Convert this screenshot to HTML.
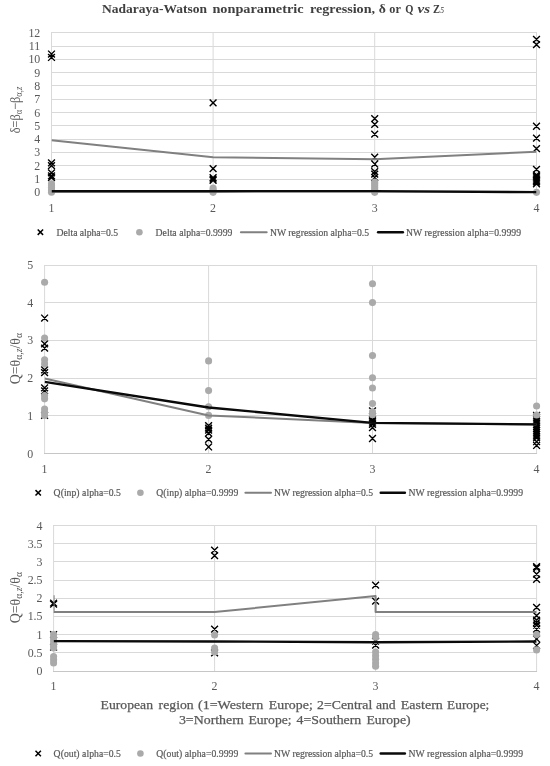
<!DOCTYPE html>
<html><head><meta charset="utf-8"><title>Nadaraya-Watson nonparametric regression</title>
<style>html,body{margin:0;padding:0;background:#fff}svg{display:block}text{font-family:"Liberation Serif","DejaVu Serif",serif}.t{font-size:11.9px;fill:#595959}.l{font-size:9.7px;fill:#595959;stroke:#595959;stroke-width:0.2px}.ti{font-size:13.2px;font-weight:bold;fill:#404040}.ax{font-size:13.3px;fill:#595959;stroke:#595959;stroke-width:0.25px}.yl{font-size:15px;fill:#595959}</style></head><body>
<svg width="550" height="766" viewBox="0 0 550 766">
<rect width="550" height="766" fill="#fff"/>
<text y="13.1" class="ti"><tspan x="102" textLength="105.0" lengthAdjust="spacingAndGlyphs">Nadaraya-Watson</tspan> <tspan x="212.4" textLength="91.2" lengthAdjust="spacingAndGlyphs">nonparametric</tspan> <tspan x="310" textLength="65.1" lengthAdjust="spacingAndGlyphs">regression,</tspan> <tspan x="378.7" textLength="7.1" lengthAdjust="spacingAndGlyphs">δ</tspan> <tspan x="389.3" textLength="11.3" lengthAdjust="spacingAndGlyphs">or</tspan> <tspan x="405.3" textLength="8.2" lengthAdjust="spacingAndGlyphs">Q</tspan> <tspan x="417.5" textLength="12.5" lengthAdjust="spacingAndGlyphs" font-style="italic">vs</tspan> <tspan x="433" textLength="7" lengthAdjust="spacingAndGlyphs">Z</tspan><tspan x="440.2" font-size="7.2px" font-style="italic" font-weight="normal" textLength="3.8" lengthAdjust="spacingAndGlyphs">5</tspan></text>
<path d="M51.00 192.50H537.00M51.00 179.50H537.00M51.00 165.50H537.00M51.00 152.50H537.00M51.00 139.50H537.00M51.00 125.50H537.00M51.00 112.50H537.00M51.00 99.50H537.00M51.00 85.50H537.00M51.00 72.50H537.00M51.00 59.50H537.00M51.00 46.50H537.00M51.00 32.50H537.00M51.50 32.00V193.00M213.10 32.00V193.00M374.70 32.00V193.00M536.50 32.00V193.00" stroke="#d9d9d9" stroke-width="1" fill="none"/>
<path d="M51.00 192.50H537.00" stroke="#c6c6c6" stroke-width="1" fill="none"/>
<text x="40.3" y="196.30" text-anchor="end" class="t">0</text>
<text x="40.3" y="183.00" text-anchor="end" class="t">1</text>
<text x="40.3" y="169.70" text-anchor="end" class="t">2</text>
<text x="40.3" y="156.40" text-anchor="end" class="t">3</text>
<text x="40.3" y="143.10" text-anchor="end" class="t">4</text>
<text x="40.3" y="129.80" text-anchor="end" class="t">5</text>
<text x="40.3" y="116.50" text-anchor="end" class="t">6</text>
<text x="40.3" y="103.20" text-anchor="end" class="t">7</text>
<text x="40.3" y="89.90" text-anchor="end" class="t">8</text>
<text x="40.3" y="76.60" text-anchor="end" class="t">9</text>
<text x="40.3" y="63.30" text-anchor="end" class="t">10</text>
<text x="40.3" y="50.00" text-anchor="end" class="t">11</text>
<text x="40.3" y="36.70" text-anchor="end" class="t">12</text>
<text x="51.50" y="211.60" text-anchor="middle" class="t">1</text>
<text x="213.10" y="211.60" text-anchor="middle" class="t">2</text>
<text x="374.70" y="211.60" text-anchor="middle" class="t">3</text>
<text x="536.50" y="211.60" text-anchor="middle" class="t">4</text>
<path d="M48.10 50.63L54.90 57.43M48.10 57.43L54.90 50.63M48.10 54.08L54.90 60.88M48.10 60.88L54.90 54.08M48.10 159.40L54.90 166.20M48.10 166.20L54.90 159.40M48.10 162.20L54.90 169.00M48.10 169.00L54.90 162.20M48.10 169.50L54.90 176.30M48.10 176.30L54.90 169.50M48.10 172.40L54.90 179.20M48.10 179.20L54.90 172.40M48.10 174.20L54.90 181.00M48.10 181.00L54.90 174.20M209.70 99.39L216.50 106.19M209.70 106.19L216.50 99.39M209.70 165.24L216.50 172.04M209.70 172.04L216.50 165.24M209.70 174.12L216.50 180.92M209.70 180.92L216.50 174.12M209.70 175.71L216.50 182.51M209.70 182.51L216.50 175.71M209.70 177.04L216.50 183.84M209.70 183.84L216.50 177.04M371.30 115.16L378.10 121.96M371.30 121.96L378.10 115.16M371.30 120.99L378.10 127.79M371.30 127.79L378.10 120.99M371.30 130.79L378.10 137.59M371.30 137.59L378.10 130.79M371.30 153.85L378.10 160.65M371.30 160.65L378.10 153.85M371.30 160.61L378.10 167.41M371.30 167.41L378.10 160.61M371.30 168.16L378.10 174.96M371.30 174.96L378.10 168.16M371.30 170.68L378.10 177.48M371.30 177.48L378.10 170.68M371.30 174.12L378.10 180.92M371.30 180.92L378.10 174.12M533.10 36.06L539.90 42.86M533.10 42.86L539.90 36.06M533.10 41.23L539.90 48.02M533.10 48.02L539.90 41.23M533.10 122.84L539.90 129.64M533.10 129.64L539.90 122.84M533.10 134.64L539.90 141.44M533.10 141.44L539.90 134.64M533.10 145.24L539.90 152.04M533.10 152.04L539.90 145.24M533.10 166.04L539.90 172.84M533.10 172.84L539.90 166.04M533.10 171.60L539.90 178.41M533.10 178.41L539.90 171.60M533.10 173.06L539.90 179.86M533.10 179.86L539.90 173.06M533.10 174.39L539.90 181.19M533.10 181.19L539.90 174.39M533.10 175.71L539.90 182.51M533.10 182.51L539.90 175.71M533.10 177.04L539.90 183.84M533.10 183.84L539.90 177.04M533.10 178.36L539.90 185.16M533.10 185.16L539.90 178.36M533.10 180.35L539.90 187.15M533.10 187.15L539.90 180.35" stroke="#000" stroke-width="1.4" fill="none"/>
<circle cx="51.50" cy="183.80" r="3.55" fill="#aaaaaa"/>
<circle cx="51.50" cy="185.50" r="3.55" fill="#aaaaaa"/>
<circle cx="51.50" cy="187.20" r="3.55" fill="#aaaaaa"/>
<circle cx="51.50" cy="189.00" r="3.55" fill="#aaaaaa"/>
<circle cx="51.50" cy="190.70" r="3.55" fill="#aaaaaa"/>
<circle cx="51.50" cy="192.20" r="3.55" fill="#aaaaaa"/>
<circle cx="213.10" cy="187.99" r="3.55" fill="#aaaaaa"/>
<circle cx="213.10" cy="189.71" r="3.55" fill="#aaaaaa"/>
<circle cx="213.10" cy="192.36" r="3.55" fill="#aaaaaa"/>
<circle cx="374.70" cy="182.03" r="3.55" fill="#aaaaaa"/>
<circle cx="374.70" cy="183.75" r="3.55" fill="#aaaaaa"/>
<circle cx="374.70" cy="185.74" r="3.55" fill="#aaaaaa"/>
<circle cx="374.70" cy="187.72" r="3.55" fill="#aaaaaa"/>
<circle cx="374.70" cy="189.71" r="3.55" fill="#aaaaaa"/>
<circle cx="374.70" cy="192.36" r="3.55" fill="#aaaaaa"/>
<circle cx="536.50" cy="192.36" r="3.55" fill="#aaaaaa"/>
<clipPath id="c1"><rect x="51.50" y="29.70" width="485.00" height="165.60"/></clipPath>
<g clip-path="url(#c1)">
<polyline points="51.50,140.16 213.10,157.25 374.70,159.37 536.50,151.69" stroke="#808080" stroke-width="2" fill="none" stroke-linejoin="round"/>
<polyline points="51.50,191.24 213.10,191.24 374.70,191.17 536.50,192.17" stroke="#0a0a0a" stroke-width="2.3" fill="none" stroke-linejoin="round"/>
</g>
<text transform="translate(20.1,110) rotate(-90)" text-anchor="middle" class="yl" textLength="46.5" lengthAdjust="spacingAndGlyphs">δ=β<tspan font-size="10.5px" dy="1.4">α</tspan><tspan dy="-1.4">−β</tspan><tspan font-size="10.5px" dy="1.4">α,<tspan font-style="italic">z</tspan></tspan></text>
<path d="M37.70 229.50L43.10 234.90M37.70 234.90L43.10 229.50" stroke="#000" stroke-width="1.5" fill="none"/>
<text x="56.6" y="235.5" class="l" textLength="61.4" lengthAdjust="spacing">Delta alpha=0.5</text>
<circle cx="139.4" cy="232.2" r="3.3" fill="#aaaaaa"/>
<text x="155.6" y="235.5" class="l" textLength="76.8" lengthAdjust="spacing">Delta alpha=0.9999</text>
<path d="M240.9 232.2H266.7" stroke="#808080" stroke-width="2" stroke-linecap="round"/>
<text x="270" y="235.5" class="l" textLength="99.0" lengthAdjust="spacing">NW regression alpha=0.5</text>
<path d="M378.1 232.2H402.9" stroke="#0a0a0a" stroke-width="2.4" stroke-linecap="round"/>
<text x="406" y="235.5" class="l" textLength="115.0" lengthAdjust="spacing">NW regression alpha=0.9999</text>
<path d="M44.00 453.50H537.00M44.00 415.50H537.00M44.00 378.50H537.00M44.00 340.50H537.00M44.00 302.50H537.00M44.00 265.50H537.00M44.60 265.00V454.00M208.60 265.00V454.00M372.50 265.00V454.00M536.60 265.00V454.00" stroke="#d9d9d9" stroke-width="1" fill="none"/>
<path d="M44.00 453.50H537.00" stroke="#c6c6c6" stroke-width="1" fill="none"/>
<text x="33.2" y="457.50" text-anchor="end" class="t">0</text>
<text x="33.2" y="419.80" text-anchor="end" class="t">1</text>
<text x="33.2" y="382.10" text-anchor="end" class="t">2</text>
<text x="33.2" y="344.40" text-anchor="end" class="t">3</text>
<text x="33.2" y="306.70" text-anchor="end" class="t">4</text>
<text x="33.2" y="269.00" text-anchor="end" class="t">5</text>
<text x="44.60" y="472.80" text-anchor="middle" class="t">1</text>
<text x="208.60" y="472.80" text-anchor="middle" class="t">2</text>
<text x="372.50" y="472.80" text-anchor="middle" class="t">3</text>
<text x="536.60" y="472.80" text-anchor="middle" class="t">4</text>
<path d="M41.20 314.62L48.00 321.42M41.20 321.42L48.00 314.62M41.20 340.56L48.00 347.36M41.20 347.36L48.00 340.56M41.20 344.70L48.00 351.50M41.20 351.50L48.00 344.70M41.20 366.50L48.00 373.30M41.20 373.30L48.00 366.50M41.20 369.14L48.00 375.94M41.20 375.94L48.00 369.14M41.20 384.55L48.00 391.35M41.20 391.35L48.00 384.55M41.20 387.56L48.00 394.36M41.20 394.36L48.00 387.56M41.20 412.00L48.00 418.80M41.20 418.80L48.00 412.00M205.20 422.15L212.00 428.95M205.20 428.95L212.00 422.15M205.20 424.78L212.00 431.58M205.20 431.58L212.00 424.78M205.20 426.66L212.00 433.46M205.20 433.46L212.00 426.66M205.20 429.67L212.00 436.47M205.20 436.47L212.00 429.67M205.20 436.06L212.00 442.86M205.20 442.86L212.00 436.06M205.20 443.58L212.00 450.38M205.20 450.38L212.00 443.58M369.10 407.40L375.90 414.20M369.10 414.20L375.90 407.40M369.10 416.20L375.90 423.00M369.10 423.00L375.90 416.20M369.10 417.40L375.90 424.20M369.10 424.20L375.90 417.40M369.10 418.60L375.90 425.40M369.10 425.40L375.90 418.60M369.10 419.80L375.90 426.60M369.10 426.60L375.90 419.80M369.10 421.00L375.90 427.80M369.10 427.80L375.90 421.00M369.10 424.30L375.90 431.10M369.10 431.10L375.90 424.30M369.10 435.10L375.90 441.90M369.10 441.90L375.90 435.10M533.20 412.00L540.00 418.80M533.20 418.80L540.00 412.00M533.20 413.88L540.00 420.68M533.20 420.68L540.00 413.88M533.20 415.76L540.00 422.56M533.20 422.56L540.00 415.76M533.20 417.64L540.00 424.44M533.20 424.44L540.00 417.64M533.20 419.52L540.00 426.32M533.20 426.32L540.00 419.52M533.20 421.40L540.00 428.20M533.20 428.20L540.00 421.40M533.20 423.28L540.00 430.08M533.20 430.08L540.00 423.28M533.20 425.16L540.00 431.96M533.20 431.96L540.00 425.16M533.20 427.04L540.00 433.84M533.20 433.84L540.00 427.04M533.20 428.92L540.00 435.72M533.20 435.72L540.00 428.92M533.20 430.80L540.00 437.60M533.20 437.60L540.00 430.80M533.20 432.68L540.00 439.48M533.20 439.48L540.00 432.68M533.20 434.56L540.00 441.36M533.20 441.36L540.00 434.56M533.20 438.32L540.00 445.12M533.20 445.12L540.00 438.32M533.20 442.08L540.00 448.88M533.20 448.88L540.00 442.08" stroke="#000" stroke-width="1.4" fill="none"/>
<circle cx="44.60" cy="282.30" r="3.55" fill="#aaaaaa"/>
<circle cx="44.60" cy="337.94" r="3.55" fill="#aaaaaa"/>
<circle cx="44.60" cy="359.75" r="3.55" fill="#aaaaaa"/>
<circle cx="44.60" cy="363.89" r="3.55" fill="#aaaaaa"/>
<circle cx="44.60" cy="395.47" r="3.55" fill="#aaaaaa"/>
<circle cx="44.60" cy="398.86" r="3.55" fill="#aaaaaa"/>
<circle cx="44.60" cy="409.01" r="3.55" fill="#aaaaaa"/>
<circle cx="44.60" cy="412.39" r="3.55" fill="#aaaaaa"/>
<circle cx="44.60" cy="415.40" r="3.55" fill="#aaaaaa"/>
<circle cx="208.60" cy="360.88" r="3.55" fill="#aaaaaa"/>
<circle cx="208.60" cy="390.58" r="3.55" fill="#aaaaaa"/>
<circle cx="208.60" cy="406.75" r="3.55" fill="#aaaaaa"/>
<circle cx="208.60" cy="415.40" r="3.55" fill="#aaaaaa"/>
<circle cx="372.50" cy="283.80" r="3.55" fill="#aaaaaa"/>
<circle cx="372.50" cy="302.60" r="3.55" fill="#aaaaaa"/>
<circle cx="372.50" cy="355.62" r="3.55" fill="#aaaaaa"/>
<circle cx="372.50" cy="377.80" r="3.55" fill="#aaaaaa"/>
<circle cx="372.50" cy="387.95" r="3.55" fill="#aaaaaa"/>
<circle cx="372.50" cy="403.50" r="3.55" fill="#aaaaaa"/>
<circle cx="372.50" cy="411.80" r="3.55" fill="#aaaaaa"/>
<circle cx="372.50" cy="414.80" r="3.55" fill="#aaaaaa"/>
<circle cx="536.60" cy="406.00" r="3.55" fill="#aaaaaa"/>
<circle cx="536.60" cy="415.02" r="3.55" fill="#aaaaaa"/>
<clipPath id="c2"><rect x="44.60" y="262.00" width="492.00" height="194.50"/></clipPath>
<g clip-path="url(#c2)">
<polyline points="44.60,378.55 208.60,415.40 372.50,422.92 536.60,424.42" stroke="#808080" stroke-width="2" fill="none" stroke-linejoin="round"/>
<polyline points="44.60,381.94 208.60,407.50 372.50,422.92 536.60,424.42" stroke="#0a0a0a" stroke-width="2.3" fill="none" stroke-linejoin="round"/>
</g>
<text transform="translate(20.1,358.6) rotate(-90)" text-anchor="middle" class="yl" textLength="51.2" lengthAdjust="spacingAndGlyphs">Q=θ<tspan font-size="10.5px" dy="1.4">α,<tspan font-style="italic">z</tspan></tspan><tspan dy="-1.4">/θ</tspan><tspan font-size="10.5px" dy="1.4">α</tspan></text>
<path d="M35.50 490.10L40.90 495.50M35.50 495.50L40.90 490.10" stroke="#000" stroke-width="1.5" fill="none"/>
<text x="53.6" y="496.1" class="l" textLength="67.3" lengthAdjust="spacing">Q(inp) alpha=0.5</text>
<circle cx="140.4" cy="492.8" r="3.3" fill="#aaaaaa"/>
<text x="156.2" y="496.1" class="l" textLength="82.1" lengthAdjust="spacing">Q(inp) alpha=0.9999</text>
<path d="M245.4 492.8H271.0" stroke="#808080" stroke-width="2" stroke-linecap="round"/>
<text x="274.1" y="496.1" class="l" textLength="98.9" lengthAdjust="spacing">NW regression alpha=0.5</text>
<path d="M380.7 492.8H404.9" stroke="#0a0a0a" stroke-width="2.4" stroke-linecap="round"/>
<text x="408.6" y="496.1" class="l" textLength="114.4" lengthAdjust="spacing">NW regression alpha=0.9999</text>
<path d="M53.00 671.50H537.00M53.00 652.50H537.00M53.00 634.50H537.00M53.00 616.50H537.00M53.00 598.50H537.00M53.00 580.50H537.00M53.00 561.50H537.00M53.00 543.50H537.00M53.00 525.50H537.00M53.60 525.00V672.00M214.60 525.00V672.00M375.60 525.00V672.00M536.60 525.00V672.00" stroke="#d9d9d9" stroke-width="1" fill="none"/>
<path d="M53.00 671.50H537.00" stroke="#c6c6c6" stroke-width="1" fill="none"/>
<text x="42.5" y="675.00" text-anchor="end" class="t">0</text>
<text x="42.5" y="656.83" text-anchor="end" class="t">0.5</text>
<text x="42.5" y="638.65" text-anchor="end" class="t">1</text>
<text x="42.5" y="620.48" text-anchor="end" class="t">1.5</text>
<text x="42.5" y="602.30" text-anchor="end" class="t">2</text>
<text x="42.5" y="584.12" text-anchor="end" class="t">2.5</text>
<text x="42.5" y="565.95" text-anchor="end" class="t">3</text>
<text x="42.5" y="547.77" text-anchor="end" class="t">3.5</text>
<text x="42.5" y="529.60" text-anchor="end" class="t">4</text>
<text x="53.60" y="690.30" text-anchor="middle" class="t">1</text>
<text x="214.60" y="690.30" text-anchor="middle" class="t">2</text>
<text x="375.60" y="690.30" text-anchor="middle" class="t">3</text>
<text x="536.60" y="690.30" text-anchor="middle" class="t">4</text>
<path d="M50.20 599.71L57.00 606.51M50.20 606.51L57.00 599.71M50.20 600.81L57.00 607.61M50.20 607.61L57.00 600.81M50.20 631.20L57.00 638.00M50.20 638.00L57.00 631.20M50.20 643.76L57.00 650.56M50.20 650.56L57.00 643.76M211.20 546.75L218.00 553.55M211.20 553.55L218.00 546.75M211.20 552.21L218.00 559.01M211.20 559.01L218.00 552.21M211.20 625.74L218.00 632.54M211.20 632.54L218.00 625.74M211.20 649.40L218.00 656.20M211.20 656.20L218.00 649.40M372.20 581.70L379.00 588.50M372.20 588.50L379.00 581.70M372.20 597.71L379.00 604.51M372.20 604.51L379.00 597.71M372.20 637.75L379.00 644.55M372.20 644.55L379.00 637.75M372.20 641.76L379.00 648.56M372.20 648.56L379.00 641.76M533.20 563.13L540.00 569.93M533.20 569.93L540.00 563.13M533.20 564.59L540.00 571.39M533.20 571.39L540.00 564.59M533.20 570.78L540.00 577.58M533.20 577.58L540.00 570.78M533.20 575.87L540.00 582.67M533.20 582.67L540.00 575.87M533.20 603.90L540.00 610.70M533.20 610.70L540.00 603.90M533.20 612.27L540.00 619.07M533.20 619.07L540.00 612.27M533.20 616.64L540.00 623.44M533.20 623.44L540.00 616.64M533.20 619.19L540.00 625.99M533.20 625.99L540.00 619.19M533.20 621.74L540.00 628.54M533.20 628.54L540.00 621.74M533.20 625.74L540.00 632.54M533.20 632.54L540.00 625.74M533.20 635.57L540.00 642.37M533.20 642.37L540.00 635.57M533.20 642.12L540.00 648.92M533.20 648.92L540.00 642.12" stroke="#000" stroke-width="1.4" fill="none"/>
<circle cx="53.60" cy="634.60" r="3.55" fill="#aaaaaa"/>
<circle cx="53.60" cy="637.51" r="3.55" fill="#aaaaaa"/>
<circle cx="53.60" cy="640.42" r="3.55" fill="#aaaaaa"/>
<circle cx="53.60" cy="643.34" r="3.55" fill="#aaaaaa"/>
<circle cx="53.60" cy="646.25" r="3.55" fill="#aaaaaa"/>
<circle cx="53.60" cy="648.07" r="3.55" fill="#aaaaaa"/>
<circle cx="53.60" cy="656.44" r="3.55" fill="#aaaaaa"/>
<circle cx="53.60" cy="659.72" r="3.55" fill="#aaaaaa"/>
<circle cx="53.60" cy="662.99" r="3.55" fill="#aaaaaa"/>
<circle cx="214.60" cy="634.96" r="3.55" fill="#aaaaaa"/>
<circle cx="214.60" cy="648.07" r="3.55" fill="#aaaaaa"/>
<circle cx="214.60" cy="652.07" r="3.55" fill="#aaaaaa"/>
<circle cx="375.60" cy="634.60" r="3.55" fill="#aaaaaa"/>
<circle cx="375.60" cy="637.15" r="3.55" fill="#aaaaaa"/>
<circle cx="375.60" cy="652.07" r="3.55" fill="#aaaaaa"/>
<circle cx="375.60" cy="655.71" r="3.55" fill="#aaaaaa"/>
<circle cx="375.60" cy="659.35" r="3.55" fill="#aaaaaa"/>
<circle cx="375.60" cy="662.99" r="3.55" fill="#aaaaaa"/>
<circle cx="375.60" cy="666.27" r="3.55" fill="#aaaaaa"/>
<circle cx="536.60" cy="634.60" r="3.55" fill="#aaaaaa"/>
<circle cx="536.60" cy="649.89" r="3.55" fill="#aaaaaa"/>
<clipPath id="c3"><rect x="53.60" y="522.60" width="483.00" height="151.40"/></clipPath>
<g clip-path="url(#c3)">
<polyline points="53.60,595.29 53.60,612.03 214.60,612.03 375.60,596.02 375.60,612.03 536.60,612.03" stroke="#808080" stroke-width="2" fill="none" stroke-linejoin="round"/>
<polyline points="53.60,641.15 214.60,641.52 375.60,642.24 536.60,641.52" stroke="#0a0a0a" stroke-width="2.3" fill="none" stroke-linejoin="round"/>
</g>
<text transform="translate(20.1,597.6) rotate(-90)" text-anchor="middle" class="yl" textLength="51.2" lengthAdjust="spacingAndGlyphs">Q=θ<tspan font-size="10.5px" dy="1.4">α,<tspan font-style="italic">z</tspan></tspan><tspan dy="-1.4">/θ</tspan><tspan font-size="10.5px" dy="1.4">α</tspan></text>
<text y="709.1" class="ax"><tspan x="100.6" textLength="52.4" lengthAdjust="spacingAndGlyphs">European</tspan> <tspan x="158.6" textLength="35.1" lengthAdjust="spacingAndGlyphs">region</tspan> <tspan x="198" textLength="65.2" lengthAdjust="spacingAndGlyphs">(1=Western</tspan> <tspan x="268.8" textLength="44.0" lengthAdjust="spacingAndGlyphs">Europe;</tspan> <tspan x="317.1" textLength="55.2" lengthAdjust="spacingAndGlyphs">2=Central</tspan> <tspan x="375.9" textLength="19.8" lengthAdjust="spacingAndGlyphs">and</tspan> <tspan x="400.8" textLength="42.0" lengthAdjust="spacingAndGlyphs">Eastern</tspan> <tspan x="447.1" textLength="42.2" lengthAdjust="spacingAndGlyphs">Europe;</tspan></text>
<text y="724.0" class="ax"><tspan x="178.9" textLength="64.9" lengthAdjust="spacingAndGlyphs">3=Northern</tspan> <tspan x="248.4" textLength="43.2" lengthAdjust="spacingAndGlyphs">Europe;</tspan> <tspan x="296.6" textLength="64.7" lengthAdjust="spacingAndGlyphs">4=Southern</tspan> <tspan x="366.4" textLength="44.2" lengthAdjust="spacingAndGlyphs">Europe)</tspan></text>
<path d="M35.50 750.80L40.90 756.20M35.50 756.20L40.90 750.80" stroke="#000" stroke-width="1.5" fill="none"/>
<text x="53.6" y="756.8" class="l" textLength="67.3" lengthAdjust="spacing">Q(out) alpha=0.5</text>
<circle cx="140.4" cy="753.5" r="3.3" fill="#aaaaaa"/>
<text x="156.2" y="756.8" class="l" textLength="82.1" lengthAdjust="spacing">Q(out) alpha=0.9999</text>
<path d="M245.4 753.5H271.0" stroke="#808080" stroke-width="2" stroke-linecap="round"/>
<text x="274.1" y="756.8" class="l" textLength="98.9" lengthAdjust="spacing">NW regression alpha=0.5</text>
<path d="M380.7 753.5H404.9" stroke="#0a0a0a" stroke-width="2.4" stroke-linecap="round"/>
<text x="408.6" y="756.8" class="l" textLength="114.4" lengthAdjust="spacing">NW regression alpha=0.9999</text>
</svg></body></html>
